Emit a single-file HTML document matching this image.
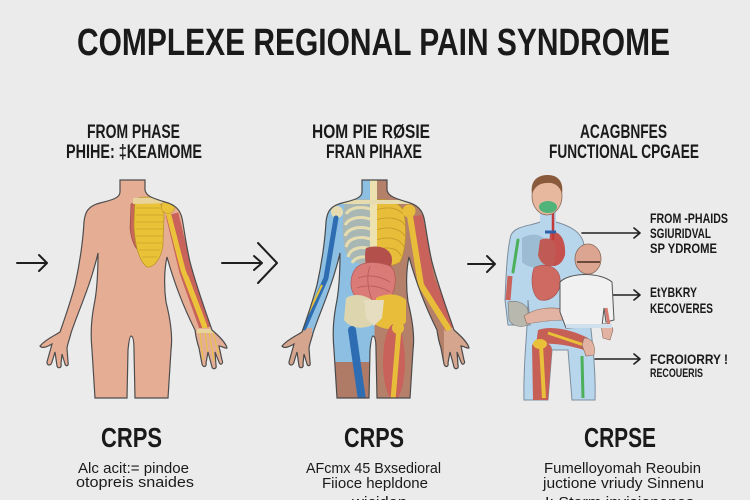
<!DOCTYPE html>
<html><head><meta charset="utf-8"><style>
html,body{margin:0;padding:0;background:#ebebeb;}
svg{display:block;}
text{font-family:"Liberation Sans",Arial,sans-serif;fill:#1a1a1a;}
</style></head><body>
<svg width="750" height="500" viewBox="0 0 750 500" xmlns="http://www.w3.org/2000/svg">
<defs>
<path id="body" d="M120,180 L120,192 C120,198 112,200 100,203 C88,206 85,212 84,222 C83,240 80,262 75,285 C71,300 66,315 60,332 C54,336 46,339 40,346 C42,349 47,347 52,344 L47,362 C47,366 51,366 52,362 L55,352 L57,366 C58,369 62,368 61,364 L62,354 L65,364 C66,367 69,366 68,362 L67,348 C68,342 70,338 71,333 C77,315 86,295 92,275 C95,265 97,258 98,253 C98,270 97,288 95,300 C92,315 90,330 92,350 L95,398 L127,398 L128,350 C129,340 130,336 131,336 C133,336 134,340 134,350 L135,398 L168,398 L171,350 C173,335 170,318 166,302 C164,288 164,270 167,257 C172,275 180,300 195,330 C196,338 198,345 199,348 L202,364 C203,368 207,367 206,363 L208,352 L212,367 C213,370 217,369 216,365 L215,352 L219,362 C220,366 224,364 222,360 L219,346 C222,346 225,349 227,348 C226,343 220,337 212,330 C205,310 196,285 190,262 C186,245 184,228 182,218 C180,210 176,205 165,202 C152,198 146,196 145,190 L145,180 Z"/>
<clipPath id="c1"><use href="#body"/></clipPath>
<clipPath id="c2"><use href="#body" transform="translate(242,0)"/></clipPath>
</defs>

<rect width="750" height="500" fill="#ebebeb"/>

<!-- Title -->
<text x="77" y="55" font-size="38" font-weight="bold" textLength="593" lengthAdjust="spacingAndGlyphs">COMPLEXE REGIONAL PAIN SYNDROME</text>

<!-- Subheads -->
<g font-size="19" font-weight="bold">
<text x="87" y="138" textLength="93" lengthAdjust="spacingAndGlyphs">FROM PHASE</text>
<text x="66" y="158" textLength="136" lengthAdjust="spacingAndGlyphs">PHIHE: ‡KEAMOME</text>
<text x="312" y="138" textLength="118" lengthAdjust="spacingAndGlyphs">HOM PIE RØSIE</text>
<text x="326" y="158" textLength="96" lengthAdjust="spacingAndGlyphs">FRAN PIHAXE</text>
<text x="580" y="138" textLength="87" lengthAdjust="spacingAndGlyphs">ACAGBNFES</text>
<text x="549" y="158" textLength="150" lengthAdjust="spacingAndGlyphs">FUNCTIONAL CPGAEE</text>
</g>

<!-- Arrows -->
<g stroke="#1f1f1f" stroke-width="2" fill="none" stroke-linecap="round" stroke-linejoin="round">
<path d="M17,263 L47,263 M39,255 L47,263 L39,271"/>
<path d="M222,263 L261,263 M254,256 L262,263 L254,270 M258,243 L277,263 L258,283"/>
<path d="M468,264 L495,264 M487,256 L495,264 L487,272"/>
<path d="M582,233 L640,233 M634,228 L640,233 L634,238" stroke-width="1.6"/>
<path d="M607,295 L640,295 M634,290 L640,295 L634,300" stroke-width="1.6"/>
<path d="M595,359 L640,359 M634,354 L640,359 L634,364" stroke-width="1.6"/>
</g>

<!-- Figure 1 -->
<use href="#body" fill="#e6ad95"/>
<g clip-path="url(#c1)">
<path d="M131,204 C136,201 141,203 142,210 L142,252 C136,252 131,240 130,228 Z" fill="#c9665a" stroke="#8a4a40" stroke-width="0.6"/>
<path d="M135,199 C150,194 163,199 164,215 L163,245 C161,260 153,268 147,267 C139,261 135,246 134,225 Z" fill="#e9c237" stroke="#b8952a" stroke-width="0.8"/>
<g stroke="#c9a22c" stroke-width="0.8" fill="none">
<path d="M136,208 H163 M136,215 H163 M136,222 H163 M136,229 H163 M136,236 H163 M137,243 H162 M139,250 H160 M142,257 H157"/>
</g>
<path d="M133,198 L178,197 L178,203 L133,204 Z" fill="#e8d39a"/>
<path d="M172,214 L186,272 L206,328" stroke="#c9625a" stroke-width="13" fill="none" stroke-linejoin="round"/>
<path d="M167,208 L183,270 L205,328" stroke="#ebc33a" stroke-width="5" fill="none" stroke-linecap="round"/>
<path d="M187,276 L206,326" stroke="#ebc33a" stroke-width="2.5" fill="none"/>
<circle cx="168" cy="207" r="6.5" fill="#ebc33a" stroke="#b8952a" stroke-width="0.6"/>
<rect x="196" y="328" width="30" height="42" fill="#e3ad96"/>
<path d="M200,333 L203,360 M205,332 L209,362 M209,332 L214,361 M213,333 L219,355" stroke="#e8c050" stroke-width="1.4"/>
<rect x="197" y="329" width="17" height="4" fill="#e8d39a"/>
</g>
<use href="#body" fill="none" stroke="#4d4d4d" stroke-width="1.2"/>

<!-- Figure 2 -->
<g clip-path="url(#c2)">
<rect x="270" y="175" width="104.5" height="230" fill="#8dbfe2"/>
<rect x="374.5" y="175" width="110" height="230" fill="#b5806a"/>
<rect x="330" y="362" width="45" height="40" fill="#b07b66"/>
<rect x="270" y="328" width="42" height="45" fill="#d6a58e"/>
<rect x="444" y="326" width="40" height="45" fill="#d6a58e"/>
<path d="M345,203 C356,198 366,199 374,200 L374,262 C362,268 350,262 345,250 C342,235 342,215 345,203 Z" fill="#a8b7b4"/>
<g stroke="#e5dcaf" stroke-width="3" fill="none">
<path d="M373,210 C360,205 350,208 346,214 M373,220 C360,215 349,218 345,225 M373,230 C360,225 348,228 345,236 M373,240 C360,235 348,238 346,247 M373,250 C362,245 350,248 348,257 M372,259 C364,255 355,257 352,263"/>
</g>
<path d="M375,200 C388,198 400,202 404,212 C407,230 406,250 400,262 C390,268 380,266 375,262 Z" fill="#e8bd3a" stroke="#b8912a" stroke-width="0.7"/>
<g stroke="#c99c2a" stroke-width="0.9" fill="none">
<path d="M376,210 C388,206 398,208 403,214 M376,220 C388,216 400,218 405,225 M376,230 C388,226 400,228 405,236 M376,240 C388,236 400,238 404,247 M376,250 C388,246 398,248 401,256"/>
</g>
<rect x="370" y="180" width="7" height="80" fill="#ede1b0"/>
<path d="M336,202 L410,202" stroke="#e6dcaf" stroke-width="4"/>
<circle cx="337" cy="212" r="6" fill="#e6dcaf"/>
<path d="M336,218 L326,278 L304,328" stroke="#2f6db3" stroke-width="5" fill="none" stroke-linecap="round"/>
<path d="M322,285 L302,326" stroke="#e8c03a" stroke-width="2"/>
<path d="M316,283 L298,320" stroke="#c9625a" stroke-width="3"/>
<path d="M416,216 L428,280 L451,328" stroke="#c9625a" stroke-width="13" fill="none" stroke-linejoin="round"/>
<path d="M410,216 L421,285 L448,328" stroke="#e8bd3a" stroke-width="6" fill="none" stroke-linecap="round"/>
<circle cx="409" cy="211" r="6.5" fill="#e8bd3a"/>
<path d="M366,248 C378,244 392,248 392,260 C392,272 382,277 370,275 C365,268 364,255 366,248 Z" fill="#b4504c"/>
<path d="M356,268 C364,260 380,262 390,266 C398,272 396,290 390,298 C380,306 362,305 355,296 C349,288 350,276 356,268 Z" fill="#db7b78" stroke="#b45a58" stroke-width="0.8"/>
<g stroke="#b85c5a" stroke-width="0.9" fill="none"><path d="M358,278 C368,274 380,276 390,282 M357,288 C367,284 380,286 390,292 M370,266 C366,276 368,290 372,300"/></g>
<path d="M346,298 C356,292 366,296 372,300 L372,325 C362,330 350,328 344,320 Z" fill="#ddd5ae"/>
<path d="M376,298 C388,292 400,294 406,300 L406,322 C398,332 384,330 376,325 Z" fill="#e8bd3a"/>
<path d="M364,300 L384,300 L382,318 L374,326 L366,318 Z" fill="#e6dcc0"/>
<path d="M352,330 L362,400" stroke="#2f6db3" stroke-width="8" stroke-linecap="round"/>
<ellipse cx="394" cy="362" rx="11" ry="38" fill="#c9625a"/>
<path d="M399,328 L393,400" stroke="#e8bd3a" stroke-width="5"/>
<circle cx="398" cy="328" r="6" fill="#e8bd3a"/>
</g>
<use href="#body" transform="translate(242,0)" fill="none" stroke="#4a4a4a" stroke-width="1.2"/>

<!-- Figure 3 -->
<g>
<path d="M540,222 C530,226 515,226 511,235 C507,250 506,275 505,300 L508,325 L530,325 L528,300 C528,330 523,360 524,400 L548,400 L552,350 L568,350 L572,400 L595,400 C596,370 592,340 590,320 C592,295 587,270 584,245 C582,232 570,226 556,222 Z" fill="#b7d6ec" stroke="#7d8d9c" stroke-width="1"/>
<rect x="540" y="208" width="16" height="18" fill="#b7d6ec"/>
<path d="M522,238 C532,232 545,234 548,245 L548,265 C540,270 528,268 522,262 Z" fill="#9cbcd4"/>
<path d="M550,232 C560,230 566,240 565,255 C562,265 555,268 548,265 Z" fill="#c4514d"/>
<path d="M540,240 C548,236 556,240 556,250 L554,265 C548,268 540,264 538,255 Z" fill="#c05a55"/>
<path d="M534,268 C544,262 558,266 560,278 C562,292 552,302 540,300 C532,296 530,280 534,268 Z" fill="#cf6a62" stroke="#a54e4a" stroke-width="0.6"/>
<path d="M553,212 L553,240" stroke="#c23a3a" stroke-width="2.5"/>
<path d="M545,232 L556,232" stroke="#2e5fa8" stroke-width="3"/>
<path d="M518,240 L513,272" stroke="#4caf5a" stroke-width="3" stroke-linecap="round"/>
<path d="M510,276 L508,300" stroke="#c9625a" stroke-width="5"/>
<path d="M508,302 C515,300 525,302 528,310 L528,325 C520,328 512,326 509,320 Z" fill="#b8b8ae" stroke="#777" stroke-width="0.6"/>
<ellipse cx="547" cy="196" rx="15" ry="19" fill="#e8b89e" stroke="#8a6a5a" stroke-width="0.8"/>
<path d="M532,194 C530,180 538,175 548,175 C558,175 564,182 562,194 C560,186 554,182 547,183 C540,183 535,186 532,194 Z" fill="#8a5a3c"/>
<ellipse cx="548" cy="207" rx="9" ry="6" fill="#4fb37a"/>
<path d="M524,316 C535,308 552,306 565,310 L565,320 C552,320 538,322 527,324 Z" fill="#e2b3a2" stroke="#8a6a5a" stroke-width="0.6"/>
<path d="M560,282 C570,272 600,272 612,282 L614,320 L606,322 L604,308 L602,326 L566,328 L560,312 Z" fill="#f1f1f1" stroke="#555" stroke-width="1"/>
<ellipse cx="588" cy="259" rx="13" ry="15" fill="#dba591" stroke="#8a6a5a" stroke-width="0.8"/>
<path d="M577,262 L600,262" stroke="#6a4a3a" stroke-width="2"/>
<path d="M606,308 L609,325" stroke="#d87a70" stroke-width="3"/>
<path d="M601,325 C606,322 612,324 613,330 L610,340 L603,338 Z" fill="#e2b3a2" stroke="#8a6a5a" stroke-width="0.6"/>
<path d="M566,326 L612,326" stroke="#cfe0ec" stroke-width="4"/>
<path d="M538,330 C552,325 572,330 588,338 L584,350 C568,345 550,342 536,345 Z" fill="#c65f56"/>
<path d="M548,333 L584,345" stroke="#e8c03a" stroke-width="3"/>
<path d="M532,345 C540,340 552,342 552,350 L548,400 L533,400 Z" fill="#c65f56"/>
<path d="M541,345 L544,398" stroke="#e8c03a" stroke-width="4"/>
<ellipse cx="540" cy="344" rx="7" ry="5" fill="#e8c03a"/>
<path d="M584,338 C592,338 596,345 594,355 L586,356 L582,345 Z" fill="#e2b3a2" stroke="#8a6a5a" stroke-width="0.6"/>
<path d="M582,356 L583,398" stroke="#4caf5a" stroke-width="3"/>
</g>

<!-- Right labels -->
<g font-weight="bold" fill="#222">
<text x="650" y="223" font-size="14" textLength="78" lengthAdjust="spacingAndGlyphs">FROM -PHAIDS</text>
<text x="650" y="238" font-size="14" textLength="61" lengthAdjust="spacingAndGlyphs">SGIURIDVAL</text>
<text x="650" y="253" font-size="14" textLength="67" lengthAdjust="spacingAndGlyphs">SP YDROME</text>
<text x="650" y="297" font-size="14" textLength="47" lengthAdjust="spacingAndGlyphs">EtYBKRY</text>
<text x="650" y="313" font-size="14" textLength="63" lengthAdjust="spacingAndGlyphs">KECOVERES</text>
<text x="650" y="364" font-size="14" textLength="78" lengthAdjust="spacingAndGlyphs">FCROIORRY !</text>
<text x="650" y="377" font-size="12" textLength="53" lengthAdjust="spacingAndGlyphs">RECOUERIS</text>
</g>

<!-- Bottom captions -->
<g font-size="28" font-weight="bold">
<text x="101" y="447" textLength="61" lengthAdjust="spacingAndGlyphs">CRPS</text>
<text x="344" y="447" textLength="60" lengthAdjust="spacingAndGlyphs">CRPS</text>
<text x="584" y="447" textLength="72" lengthAdjust="spacingAndGlyphs">CRPSE</text>
</g>
<g font-size="15" fill="#222">
<text x="78" y="473" textLength="111" lengthAdjust="spacingAndGlyphs">Alc acit:= pindoe</text>
<text x="76" y="487" textLength="118" lengthAdjust="spacingAndGlyphs">otopreis snaides</text>
<text x="306" y="473" textLength="135" lengthAdjust="spacingAndGlyphs">AFcmx 45 Bxsedioral</text>
<text x="322" y="488" textLength="106" lengthAdjust="spacingAndGlyphs">Fiioce hepldone</text>
<text x="352" y="507" textLength="55" lengthAdjust="spacingAndGlyphs">wiciden</text>
<text x="544" y="473" textLength="157" lengthAdjust="spacingAndGlyphs">Fumelloyomah Reoubin</text>
<text x="543" y="488" textLength="161" lengthAdjust="spacingAndGlyphs">juctione vriudy Sinnenu</text>
<text x="545" y="507" textLength="149" lengthAdjust="spacingAndGlyphs">I: Sterm invisionenes</text>
</g>
</svg>
</body></html>
